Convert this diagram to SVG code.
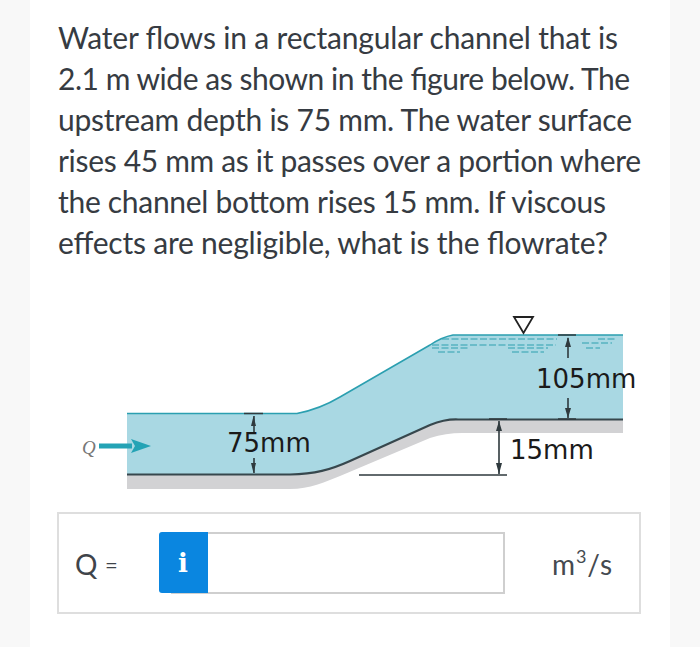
<svg xmlns="http://www.w3.org/2000/svg" width="700" height="647" viewBox="0 0 700 647">
<style>
.q{font-family:"Lato","Open Sans",sans-serif;font-size:30px;fill:#363b42}
.d{font-family:"DejaVu Sans",sans-serif;font-size:26px;fill:#1a1a1a}
.u{font-family:"Lato","Open Sans",sans-serif;font-size:28px;fill:#454a50}
.dim{stroke:#2f3a3e;stroke-width:1.6;fill:none}
.dash{stroke:#2f9fb0;stroke-width:1.2;stroke-dasharray:7 2.5;fill:none}
.ah{fill:#2f3a3e}
</style>
<rect width="700" height="647" fill="#f8f8f8"/>
<rect x="30" width="640" height="647" fill="#ffffff"/>
<g id="question" class="q">
<text x="58" y="49" textLength="560">Water flows in a rectangular channel that is</text>
<text x="58" y="90" textLength="572">2.1 m wide as shown in the figure below. The</text>
<text x="58" y="131" textLength="574">upstream depth is 75 mm. The water surface</text>
<text x="58" y="172" textLength="583">rises 45 mm as it passes over a portion where</text>
<text x="58" y="213" textLength="548">the channel bottom rises 15 mm. If viscous</text>
<text x="58" y="254" textLength="550">effects are negligible, what is the flowrate?</text>
</g>
<g id="channel-bed">
<path d="M127 474H290C315 474 330 470 350 461L430 425Q445 419 458 419H623V433H462Q446 433 430 438L340 476C325 482 310 489 290 489H127Z" fill="#d2d2d4"/>
</g>
<g id="water">
<path d="M127 413H297C315 410 330 403 340 397L430 345Q442 337 453 335H623V419H458Q445 419 430 425L350 461C330 470 315 474 290 474H127Z" fill="#a9d8e3"/>
<path d="M127 413.500H297C315 410 330 403 340 397L430 345Q442 337 453 335H623" fill="none" stroke="#2b9fb0" stroke-width="1.500"/>
<path d="M127 474.500H290C315 474 330 470 350 461L430 425Q445 419 458 419.500H623" fill="none" stroke="#37474d" stroke-width="2.200"/>
<path class="dash" d="M442 339H557M598 339H616M432 345H556M582 343H612M432 348H468M508 348H548M586 348H600M438 352H460M512 352H544"/>
</g>
<g id="connectors">
<path class="dim" d="M244 413.500H263M254 416V432M254 458V473M558 335H576M568 338V358M568 398V418M558 419H576M489 419H507M499 421V474M359 475H507"/>
<path class="ah" d="M251 426L253.500 416L256 426ZM251 463L253.500 473L256 463ZM565 347L568 337L571 347ZM565 408L568 418L571 408ZM496 431L499 421L502 431ZM496 463L499 474L502 463Z"/>
<path d="M99 446H132" stroke="#24a3b5" stroke-width="5" fill="none"/>
<path d="M131 439L151 446L131 453L135 446Z" fill="#24a3b5"/>
<path d="M514 317H533L523.500 333Z" fill="#fff" stroke="#222" stroke-width="1.800"/>
</g>
<g id="labels">
<text x="82" y="454" font-family="Liberation Serif,serif" font-style="italic" font-size="19" fill="#777">Q</text>
<text x="227" y="452" class="d">75mm</text>
<text x="536" y="388" class="d">105mm</text>
<text x="510" y="459" class="d">15mm</text>
</g>
<g id="answer-row">
<rect x="58" y="513" width="582" height="100" fill="#fff" stroke="#dedede" stroke-width="2"/>
<text x="75" y="575" font-family="Lato,sans-serif" font-size="28" fill="#3f444a">Q</text>
<text x="105" y="573" font-family="Lato,sans-serif" font-size="22" fill="#3f444a">=</text>
<rect x="172" y="533" width="332" height="60" fill="#fff" stroke="#cfcfcf" stroke-width="2"/>
<path d="M162 532H208V593H162Q159 593 159 590V535Q159 532 162 532Z" fill="#0a86e0"/>
<text x="183" y="572" text-anchor="middle" font-family="DejaVu Serif,serif" font-weight="bold" font-size="26" fill="#fff">i</text>
<text x="552" y="575" class="u" textLength="60">m<tspan font-size="18" dy="-12">3</tspan><tspan dy="12">/s</tspan></text>
</g>
</svg>
